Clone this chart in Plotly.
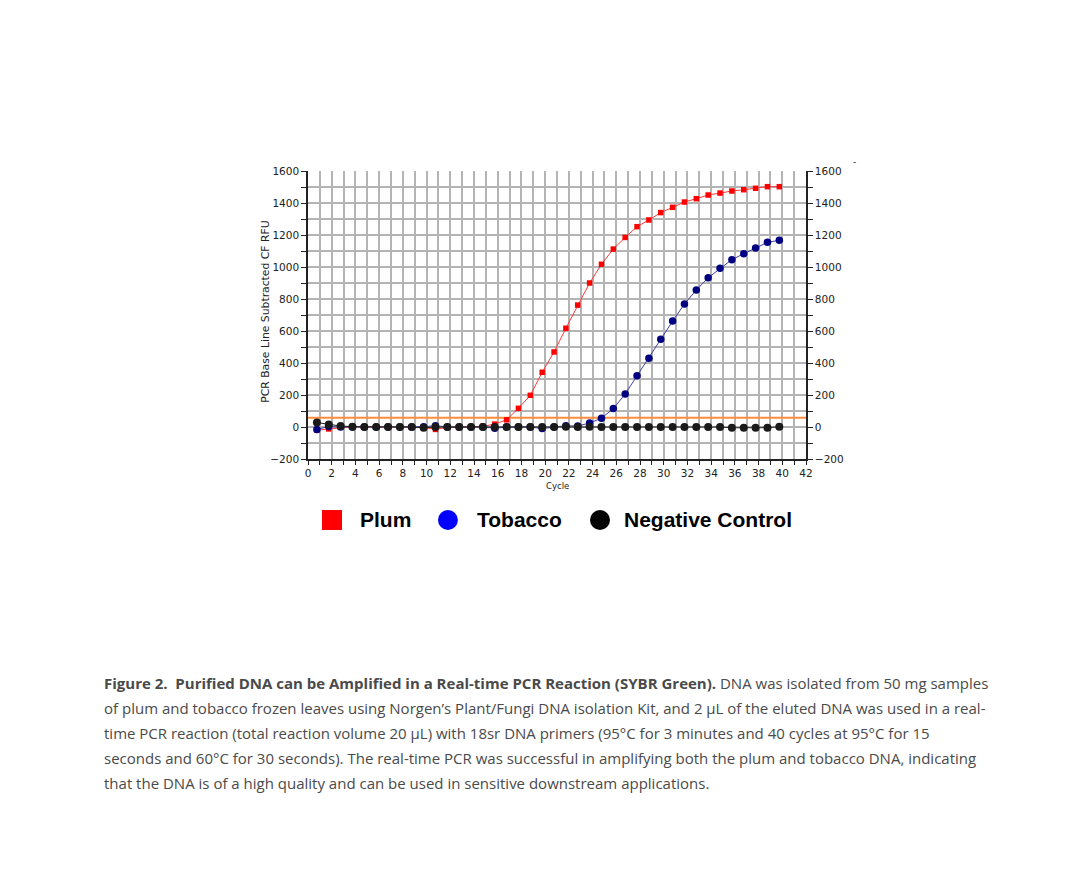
import plotly.graph_objects as go

# data
cycles = list(range(1, 41))
plum = [-20, -12, -2, 2, 0, 0, 3, 0, 0, -3, -15, -2, -3, 2, 4, 18, 45, 117, 198, 342,
        469, 617, 762, 900, 1017, 1112, 1185, 1252, 1294, 1340, 1373, 1406, 1427, 1450, 1462, 1475,
        1483, 1492, 1502, 1502]
tobacco = [-15, 3, 0, 0, 0, 0, 0, 0, 0, 2, 8, 0, 0, 0, 0, -8, 0, 0, 0, -10,
           0, 8, 6, 25, 55, 115, 206, 321, 429, 548, 662, 769, 856, 933, 992, 1046,
           1083, 1119, 1154, 1167]
negative = [28, 15, 6, 2, 0, 0, 0, 0, 0, -5, 0, 0, 0, 0, 0, 0, 0, 0, 0, 0,
            0, 2, 0, 2, 0, 0, 0, 0, 0, 0, 0, 0, 0, 0, 0, -5, -5, -5, -4, 1]
threshold = 58
x_ticks = list(range(0, 43, 2))
y_ticks = list(range(-200, 1601, 200))

caption = [
    "<b>Figure 2.  Purified DNA can be Amplified in a Real-time PCR Reaction (SYBR Green).</b> DNA was isolated from 50 mg samples",
    "of plum and tobacco frozen leaves using Norgen\u2019s Plant/Fungi DNA isolation Kit, and 2 \u00b5L of the eluted DNA was used in a real-",
    "time PCR reaction (total reaction volume 20 \u00b5L) with 18sr DNA primers (95\u00b0C for 3 minutes and 40 cycles at 95\u00b0C for 15",
    "seconds and 60\u00b0C for 30 seconds). The real-time PCR was successful in amplifying both the plum and tobacco DNA, indicating",
    "that the DNA is of a high quality and can be used in sensitive downstream applications.",
]

xpos = [c - 0.25 for c in cycles]

fig = go.Figure()

# threshold line (left axis, below the data)
fig.add_trace(go.Scatter(x=[0, 42], y=[threshold, threshold], mode="lines",
                         line=dict(color="#ff8c3a", width=2), yaxis="y",
                         showlegend=False, hoverinfo="skip"))

fig.add_trace(go.Scatter(x=xpos, y=plum, mode="lines+markers", name="Plum",
                         line=dict(color="#ff3838", width=1),
                         marker=dict(symbol="square", size=5.5, color="#ff0000"),
                         yaxis="y2"))
fig.add_trace(go.Scatter(x=xpos, y=tobacco, mode="lines+markers", name="Tobacco",
                         line=dict(color="#4040a0", width=1),
                         marker=dict(symbol="circle", size=7.5, color="#000080"),
                         yaxis="y2"))
fig.add_trace(go.Scatter(x=xpos, y=negative, mode="lines+markers", name="Negative Control",
                         line=dict(color="#202020", width=1),
                         marker=dict(symbol="circle", size=8, color="#1a1a1a"),
                         yaxis="y2"))

tickfont = dict(family="DejaVu Sans", size=10.5, color="#222222")
grid = "#b4b4b4"

fig.update_layout(
    width=1062, height=870,
    margin=dict(l=300, r=264, t=163, b=419),
    paper_bgcolor="white", plot_bgcolor="white",
    showlegend=False,
    xaxis=dict(range=[0, 42], tickvals=x_ticks, showgrid=True, gridcolor=grid, gridwidth=1.5,
               minor=dict(dtick=1, showgrid=True, gridcolor=grid, gridwidth=1.5,
                          ticks="outside", ticklen=4, tickcolor="#222"),
               ticks="outside", ticklen=4, tickcolor="#222",
               showline=True, linecolor="#222", linewidth=1.5,
               zeroline=False, tickfont=tickfont),
    yaxis=dict(range=[-200, 1600], tickvals=y_ticks, showgrid=True, gridcolor=grid, gridwidth=1.5,
               minor=dict(dtick=100, showgrid=True, gridcolor=grid, gridwidth=1.5,
                          ticks="outside", ticklen=5, tickcolor="#222"),
               ticks="outside", ticklen=5, tickcolor="#222",
               showline=True, linecolor="#222", linewidth=1.5,
               zeroline=False, tickfont=tickfont),
    yaxis2=dict(range=[-200, 1600], tickvals=y_ticks, overlaying="y", side="right",
                showgrid=False, zeroline=False,
                minor=dict(dtick=100, ticks="outside", ticklen=5, tickcolor="#222"),
                ticks="outside", ticklen=5, tickcolor="#222",
                showline=True, linecolor="#222", linewidth=1.5,
                tickfont=tickfont),
)

# axis titles
fig.add_annotation(text="PCR Base Line Subtracted CF RFU", xref="paper", yref="paper",
                   x=-0.087, y=0.51, xanchor="center", textangle=-90, showarrow=False,
                   font=dict(family="DejaVu Sans", size=10.8, color="#222"))
fig.add_annotation(text="Cycle", xref="paper", yref="paper", x=0.502, y=-0.118,
                   showarrow=False, font=dict(family="DejaVu Sans", size=8.5, color="#222"))
fig.add_annotation(text="-", xref="paper", yref="paper", x=1.104, y=1.056,
                   showarrow=False, font=dict(family="DejaVu Sans", size=9, color="#222"))

# legend drawn under the chart
fig.add_shape(type="rect", xref="paper", yref="paper", x0=0.0281, x1=0.0683, y0=-0.2465, y1=-0.1771,
              fillcolor="#ff0000", line=dict(width=0))
fig.add_shape(type="circle", xref="paper", yref="paper", x0=0.261, x1=0.301, y0=-0.2465, y1=-0.1771,
              fillcolor="#0000ff", line=dict(width=0))
fig.add_shape(type="circle", xref="paper", yref="paper", x0=0.5663, x1=0.6064, y0=-0.2465, y1=-0.1771,
              fillcolor="#000000", line=dict(width=0))
legfont = dict(family="Liberation Sans", size=21, color="#000")
for txt, lx in [("<b>Plum</b>", 0.1004), ("<b>Tobacco</b>", 0.3353), ("<b>Negative Control</b>", 0.6305)]:
    fig.add_annotation(text=txt, xref="paper", yref="paper", x=lx, y=-0.2118,
                       xanchor="left", yanchor="middle", showarrow=False, font=legfont)

# caption
cap_y = [-0.7778, -0.8646, -0.9514, -1.0382, -1.125]
for line, cy in zip(caption, cap_y):
    fig.add_annotation(text=line, xref="paper", yref="paper", x=-0.4137, y=cy,
                       xanchor="left", yanchor="middle", showarrow=False, align="left",
                       font=dict(family="Open Sans", size=15, color="#4a4a4a"))

fig.write_html("out.html")
